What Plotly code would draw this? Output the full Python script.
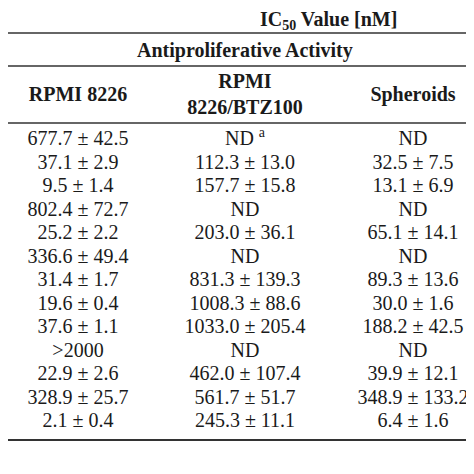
import plotly.graph_objects as go

col_rpmi = ["677.7 ± 42.5", "37.1 ± 2.9", "9.5 ± 1.4", "802.4 ± 72.7", "25.2 ± 2.2",
            "336.6 ± 49.4", "31.4 ± 1.7", "19.6 ± 0.4", "37.6 ± 1.1", ">2000",
            "22.9 ± 2.6", "328.9 ± 25.7", "2.1 ± 0.4"]
col_btz = ["ND <sup>a</sup>", "112.3 ± 13.0", "157.7 ± 15.8", "ND", "203.0 ± 36.1",
           "ND", "831.3 ± 139.3", "1008.3 ± 88.6", "1033.0 ± 205.4", "ND",
           "462.0 ± 107.4", "561.7 ± 51.7", "245.3 ± 11.1"]
col_sph = ["ND", "32.5 ± 7.5", "13.1 ± 6.9", "ND", "65.1 ± 14.1",
           "ND", "89.3 ± 13.6", "30.0 ± 1.6", "188.2 ± 42.5", "ND",
           "39.9 ± 12.1", "348.9 ± 133.2", "6.4 ± 1.6"]
headers = ["<b>RPMI 8226</b>", "<b>RPMI<br>8226/BTZ100</b>", "<b>Spheroids</b>"]

col_x = [70, 237, 405]
row_y0, row_step = 132, 23.5
font = dict(family="Liberation Serif, DejaVu Serif, serif", size=20, color="#1a1a1a")

fig = go.Figure()
for cx, col in zip(col_x, [col_rpmi, col_btz, col_sph]):
    fig.add_trace(go.Scatter(
        x=[cx] * len(col), y=[row_y0 + i * row_step for i in range(len(col))],
        mode="text", text=col, textfont=font, textposition="middle center",
        hoverinfo="skip", showlegend=False))

fig.add_trace(go.Scatter(x=col_x, y=[88] * 3, mode="text", text=headers,
                         textfont=font, hoverinfo="skip", showlegend=False))

fig.add_annotation(x=320, y=12, text="<b>IC<sub>50</sub> Value [nM]</b>",
                   showarrow=False, font=font)
fig.add_annotation(x=237, y=42, text="<b>Antiproliferative Activity</b>",
                   showarrow=False, font=font)
fig.add_annotation(x=-2, y=446, xanchor="left",
                   text="<sup>a</sup> Significantly different values compared to BTZ as determined",
                   showarrow=False, font=font)

for y, w in [(25, 1.5), (58, 1.5), (115, 1.5), (432, 2)]:
    fig.add_shape(type="line", x0=0, x1=474, y0=y, y1=y, line=dict(color="#333", width=w))

fig.update_xaxes(range=[0, 474], visible=False)
fig.update_yaxes(range=[474, 0], visible=False)
fig.update_layout(width=474, height=474, margin=dict(l=0, r=0, t=0, b=0),
                  plot_bgcolor="white", paper_bgcolor="white")
fig.write_html("out.html")
